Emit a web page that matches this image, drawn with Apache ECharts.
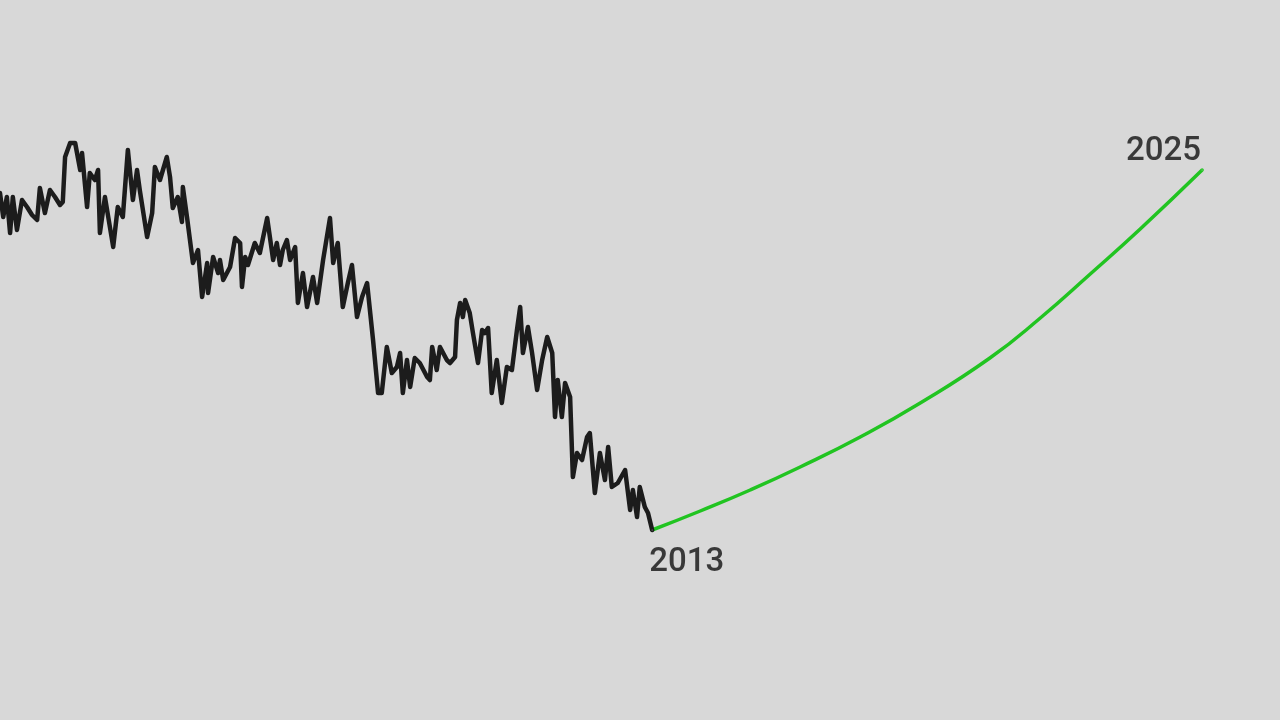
<!DOCTYPE html>
<html>
<head>
<meta charset="utf-8">
<script src="https://cdn.jsdelivr.net/npm/echarts@6/dist/echarts.min.js"></script>
<style>
html,body{margin:0;padding:0;background:#d8d8d8;}
#chart{width:1280px;height:720px;}
</style>
</head>
<body>
<div id="chart"></div>
<script>
// Historical (black) series: decimal years and index values
const histYears = [1998.77,1998.84,1998.92,1998.99,1999.05,1999.14,1999.25,1999.36,1999.47,1999.58,1999.64,1999.75,1999.86,1999.97,2000.08,2000.14,2000.19,2000.30,2000.41,2000.52,2000.56,2000.67,2000.73,2000.84,2000.91,2000.95,2001.06,2001.24,2001.34,2001.45,2001.56,2001.67,2001.76,2001.82,2001.98,2002.09,2002.15,2002.26,2002.41,2002.48,2002.54,2002.65,2002.74,2002.76,2002.85,2002.98,2003.09,2003.18,2003.29,2003.31,2003.42,2003.53,2003.57,2003.64,2003.79,2003.90,2004.01,2004.05,2004.12,2004.18,2004.33,2004.44,2004.60,2004.73,2004.81,2004.88,2004.94,2005.03,2005.10,2005.21,2005.27,2005.38,2005.47,2005.60,2005.69,2005.82,2005.97,2006.04,2006.14,2006.25,2006.36,2006.45,2006.56,2006.67,2006.78,2006.91,2007.02,2007.10,2007.21,2007.32,2007.43,2007.50,2007.56,2007.65,2007.72,2007.82,2007.93,2008.09,2008.15,2008.20,2008.30,2008.37,2008.52,2008.59,2008.70,2008.74,2008.81,2008.87,2008.92,2009.02,2009.09,2009.20,2009.29,2009.35,2009.42,2009.50,2009.61,2009.72,2009.83,2009.94,2010.05,2010.12,2010.18,2010.29,2010.38,2010.49,2010.60,2010.71,2010.82,2010.88,2010.94,2011.03,2011.10,2011.21,2011.27,2011.36,2011.47,2011.58,2011.64,2011.75,2011.86,2011.97,2012.04,2012.12,2012.25,2012.41,2012.52,2012.58,2012.67,2012.73,2012.84,2012.91,2013.00];
const histValues = [131.75,125.75,130.75,121.75,130.75,122.5,130,128.25,126.25,125,133,126.75,132.5,130.75,128.75,129.5,140.75,144.25,144.25,137.5,141.75,128.25,136.75,135,137.5,121.75,130.75,118.25,128.25,125.75,142.5,130,137.5,132.5,120.75,126.75,138.25,135,140.75,135.75,128,130.75,124.5,133.25,125.75,114.25,117.5,105.75,114.25,106.75,115.75,111.75,115,110,113.25,120.5,119.25,108.25,115.75,113.75,119.25,116.75,125.5,115,119.25,113.75,117.5,120,115,118.25,104.25,111.75,103.25,110.75,104.25,115,125.5,114.25,119.25,103.25,109.25,113.75,100.75,105.75,109.25,95,81.75,81.75,93.25,86.75,88.25,91.75,81.75,90,83.25,90.5,89.25,85.75,85,93.25,87.5,93.25,90,89.25,90.75,100,104.25,100.75,105,101.75,96.75,89.25,97.5,96.75,98,81.75,90,79.25,88.25,87.5,97.5,103.25,91.75,98.25,91.75,82.5,90,95.75,91.75,75.75,85,75.75,84.25,80.75,60.75,66.75,65,70.75,71.75,56.75,66.75,60,68.25,58.25,59.25,62.5,52.5,57.5,50.75,58.25,53.25,51.75,47.5];

// Projection (green) series
const projYears = [2013.00,2014.05,2015.14,2016.23,2017.54,2018.85,2020.37,2021.47,2022.56,2023.65,2025.00];
const projValues = [47.5,52.25,57.5,63.25,70.75,79.25,90.5,100.5,111.5,122.75,137.5];

// Annotated years
const labelYears = [2013, 2025];
const labelValues = [47.5, 137.5];
const labelTexts = ['2013', '2025'];

const zip = (xs, ys) => xs.map((x, i) => [x, ys[i]]);

const labelFont = {color: '#111111', fontSize: 33, fontWeight: 500, fontFamily: 'Roboto, Arial, sans-serif', textBorderWidth: 0};

const chart = echarts.init(document.getElementById('chart'), null, {renderer: 'canvas'});
chart.setOption({
  backgroundColor: '#d8d8d8',
  animation: false,
  grid: {left: 0, right: 0, top: 0, bottom: 0},
  xAxis: {type: 'value', min: 1998.77, max: 2026.70, show: false},
  yAxis: {type: 'value', min: 0, max: 180, show: false},
  series: [
    {
      type: 'line',
      data: zip(histYears, histValues),
      symbol: 'none',
      lineStyle: {color: '#1c1c1c', width: 4.5, join: 'round', cap: 'round'},
      z: 3
    },
    {
      type: 'line',
      data: zip(projYears, projValues),
      symbol: 'none',
      smooth: 0.5,
      lineStyle: {color: '#21c421', width: 3.5, cap: 'round'},
      z: 2
    },
    {
      type: 'scatter',
      symbolSize: 1,
      itemStyle: {color: '#d8d8d8'},
      data: labelYears.map((y, i) => ({
        value: [y, labelValues[i]],
        label: Object.assign({show: true, formatter: labelTexts[i], position: 'inside', verticalAlign: 'middle'},
          labelFont,
          i === 0 ? {align: 'left', offset: [-3, 33]} : {align: 'right', offset: [-1, -18]})
      })),
      z: 4
    }
  ]
});
</script>
</body>
</html>
